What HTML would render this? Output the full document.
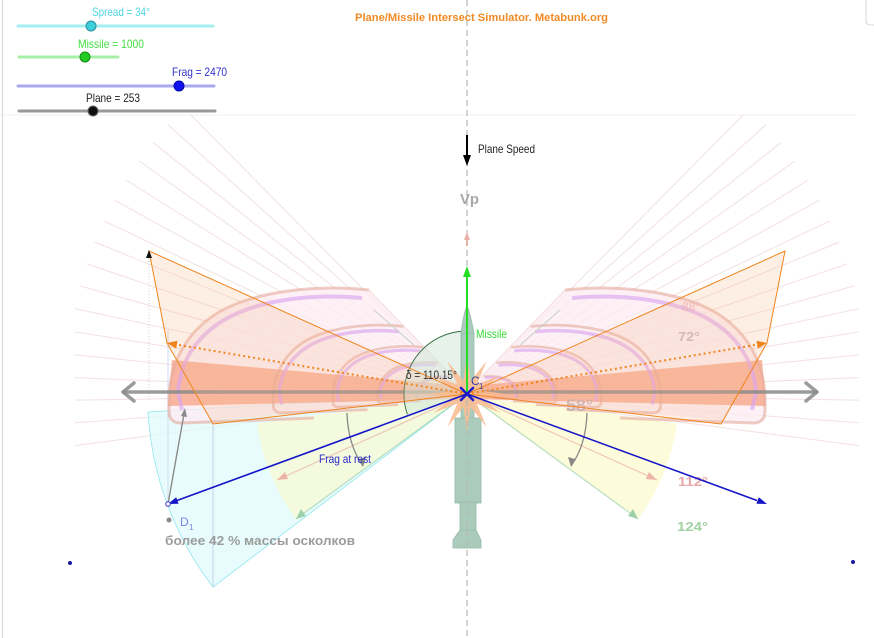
<!DOCTYPE html>
<html><head><meta charset="utf-8">
<style>
html,body{margin:0;padding:0;background:#fff;}
svg{display:block;}
</style></head>
<body>
<svg width="874" height="638" viewBox="0 0 874 638" xmlns="http://www.w3.org/2000/svg" font-family="'Liberation Sans', Arial, sans-serif">
<defs>
  <clipPath id="rc"><rect x="75" y="115" width="784" height="490"/></clipPath>
  <path id="ow" d="M565,290 C620,284 680,292 715,312 C748,332 763,362 765,395 L765,411 Q765,423 753,423 L620,418"/>
  <path id="pw" d="M572,298 C625,293 678,301 710,320 C740,338 754,364 756,392 L752,410"/>
</defs>

<!-- frame -->
<rect x="0" y="0" width="874" height="638" fill="#fff"/>
<line x1="2.5" y1="0" x2="2.5" y2="638" stroke="#d4d4d4" stroke-width="1"/>
<path d="M866,0 L866,20 Q866,25 871,25 L874,25" fill="none" stroke="#d8d8d8" stroke-width="1"/>
<line x1="0" y1="115" x2="856" y2="115" stroke="#f0f0f0" stroke-width="1"/>

<!-- rays -->
<g clip-path="url(#rc)" stroke="#e2bcb8" stroke-opacity="0.45" stroke-width="1">
  <g id="rays">
    <line x1="467" y1="394" x2="749.8" y2="108.3"/>
    <line x1="467" y1="394" x2="765.7" y2="125.0"/>
    <line x1="467" y1="394" x2="780.7" y2="142.7"/>
    <line x1="467" y1="394" x2="794.7" y2="161.1"/>
    <line x1="467" y1="394" x2="807.5" y2="180.4"/>
    <line x1="467" y1="394" x2="819.3" y2="200.3"/>
    <line x1="467" y1="394" x2="829.8" y2="220.9"/>
    <line x1="467" y1="394" x2="839.2" y2="242.1"/>
    <line x1="467" y1="394" x2="847.3" y2="263.8"/>
    <line x1="467" y1="394" x2="854.2" y2="285.9"/>
    <line x1="467" y1="394" x2="859.8" y2="308.4"/>
    <line x1="467" y1="394" x2="864.1" y2="331.1"/>
    <line x1="467" y1="394" x2="867.0" y2="354.1"/>
    <line x1="467" y1="394" x2="868.6" y2="377.2"/>
    <line x1="467" y1="394" x2="869.0" y2="400.3"/>
    <line x1="467" y1="394" x2="867.9" y2="423.4"/>
    <line x1="467" y1="394" x2="865.5" y2="446.5"/>
  </g>
  <use href="#rays" transform="translate(934,0) scale(-1,1)"/>
</g>

<!-- cyan spread sector (left) -->
<path d="M467,394 L148,412 A319,319 0 0 0 213,587 Z" fill="#e2fbfc" fill-opacity="0.75" stroke="#9ae8ee" stroke-width="0.9"/>
<line x1="213" y1="425" x2="213" y2="587" stroke="#c0d2e8" stroke-width="1"/>
<line x1="168" y1="330" x2="168" y2="503" stroke="#d0daf0" stroke-width="1"/>
<line x1="149" y1="252" x2="149" y2="400" stroke="#cccccc" stroke-width="1" stroke-dasharray="1 2"/>

<!-- yellow sectors -->
<path d="M467,394 L677,423.5 A212,212 0 0 1 638.5,518.6 Z" fill="#fdfcd6" fill-opacity="0.9"/>
<path d="M467,394 L257,423.5 A212,212 0 0 0 295.5,518.6 Z" fill="#f4f9da" fill-opacity="0.9"/>
<line x1="467" y1="394" x2="638" y2="519" stroke="#9bd0aa" stroke-opacity="0.7" stroke-width="1.2"/>
<line x1="467" y1="394" x2="296" y2="519" stroke="#9bd0aa" stroke-opacity="0.7" stroke-width="1.2"/>
<polygon points="638,519 628,516 633,509" fill="#9bd0aa"/>
<polygon points="296,519 306,516 301,509" fill="#9bd0aa"/>
<line x1="467" y1="394" x2="657" y2="480" stroke="#ecb4a6" stroke-opacity="0.75" stroke-width="1.2"/>
<line x1="467" y1="394" x2="277" y2="480" stroke="#ecb4a6" stroke-opacity="0.75" stroke-width="1.2"/>
<polygon points="657,480 646,479 649,472" fill="#ecb4a6"/>
<polygon points="277,480 288,479 285,472" fill="#ecb4a6"/>

<!-- wings -->
<g id="rw">
  <path d="M470,388 L565,290 C620,284 680,292 715,312 C748,332 763,362 765,395 L765,411 Q765,423 753,423 L470,398 Z" fill="#fcecf3" fill-opacity="0.75"/>
  <polygon points="470,386 762,360 766,406 470,399" fill="#f6a283" fill-opacity="0.75"/>
  <line x1="480" y1="378" x2="565" y2="290" stroke="#eccaca" stroke-width="1" stroke-opacity="0.6"/>
  <use href="#ow" fill="none" stroke="#e4aa9c" stroke-opacity="0.6" stroke-width="3"/>
  <use href="#ow" fill="none" stroke="#e4aa9c" stroke-opacity="0.6" stroke-width="4.2" transform="translate(467,394) scale(0.65) translate(-467,-394)"/>
  <use href="#ow" fill="none" stroke="#e4aa9c" stroke-opacity="0.6" stroke-width="5.6" transform="translate(467,394) scale(0.45) translate(-467,-394)"/>
  <use href="#ow" fill="none" stroke="#e4aa9c" stroke-opacity="0.6" stroke-width="8" transform="translate(467,394) scale(0.3) translate(-467,-394)"/>
  <use href="#ow" fill="none" stroke="#e4aa9c" stroke-opacity="0.6" stroke-width="12" transform="translate(467,394) scale(0.17) translate(-467,-394)"/>
  <use href="#pw" fill="none" stroke="#dca6f0" stroke-opacity="0.65" stroke-width="4"/>
  <use href="#pw" fill="none" stroke="#dca6f0" stroke-opacity="0.65" stroke-width="5.4" transform="translate(467,394) scale(0.65) translate(-467,-394)"/>
  <use href="#pw" fill="none" stroke="#dca6f0" stroke-opacity="0.65" stroke-width="7" transform="translate(467,394) scale(0.45) translate(-467,-394)"/>
  <use href="#pw" fill="none" stroke="#dca6f0" stroke-opacity="0.65" stroke-width="10" transform="translate(467,394) scale(0.3) translate(-467,-394)"/>
  <use href="#pw" fill="none" stroke="#dca6f0" stroke-opacity="0.65" stroke-width="15" transform="translate(467,394) scale(0.17) translate(-467,-394)"/>
  <path d="M560,310 L520,345" stroke="#c4d2ca" stroke-width="1"/>
  <path d="M587,413 Q586,445 571,466" fill="none" stroke="#888" stroke-width="1.3"/>
  <polygon points="571,467 568,457 575,459" fill="#888"/>
</g>
<use href="#rw" transform="translate(934,0) scale(-1,1)"/>

<!-- background labels -->
<text x="566" y="411" font-size="17" font-weight="bold" fill="#b8aab0" fill-opacity="0.75" textLength="27" lengthAdjust="spacingAndGlyphs">58°</text>
<text x="678" y="341" font-size="13" font-weight="bold" fill="#c8bcc0" textLength="22" lengthAdjust="spacingAndGlyphs">72°</text>
<text x="682" y="311" font-size="13" font-weight="bold" fill="#e8b0c0" fill-opacity="0.6" textLength="18" lengthAdjust="spacingAndGlyphs">88°</text>
<text x="678" y="486" font-size="13" font-weight="bold" fill="#e8a8a8" textLength="30" lengthAdjust="spacingAndGlyphs">112°</text>
<text x="677" y="531" font-size="13" font-weight="bold" fill="#a2d2a2" textLength="31" lengthAdjust="spacingAndGlyphs">124°</text>
<text x="165" y="545" font-size="13" font-weight="bold" fill="#9c9c9c" textLength="190" lengthAdjust="spacingAndGlyphs">более 42 % массы осколков</text>

<!-- gray horizontal arrows -->
<g stroke="#8a8a8a" stroke-opacity="0.85" stroke-width="3.5" fill="none" stroke-linecap="round" stroke-linejoin="round">
  <line x1="467" y1="392" x2="124" y2="392"/>
  <polyline points="134,383 123,392 134,401"/>
  <line x1="467" y1="392" x2="816" y2="392"/>
  <polyline points="806,383 817,392 806,401"/>
</g>

<!-- delta angle sector -->
<path d="M467,394 L467,331 A63,63 0 0 0 407.4,414.5 Z" fill="#d2e8d8" fill-opacity="0.55"/>
<path d="M467,331 A63,63 0 0 0 407.4,414.5" fill="none" stroke="#2f6a3c" stroke-width="0.9"/>

<!-- missile -->
<g fill="#abccbd" stroke="#96b9a8" stroke-width="0.8">
  <path d="M461,334 Q463,316 467,305 Q471,316 474,334 Z"/>
  <rect x="461" y="333" width="13" height="88"/>
  <rect x="455" y="418" width="26" height="85"/>
  <rect x="460" y="502" width="16" height="32"/>
  <polygon points="460,530 453,540 453,548 481,548 481,540 476,530"/>
</g>

<!-- starburst -->
<g transform="translate(467,394) scale(1.15,1.12) translate(-467,-394)">
<polygon points="501,394 478.6,397.1 496.4,411 475.5,402.5 484,423.4 470.1,405.6 467,428 463.9,405.6 450,423.4 458.5,402.5 437.6,411 455.4,397.1 433,394 455.4,390.9 437.6,377 458.5,385.5 450,364.6 463.9,382.4 467,360 470.1,382.4 484,364.6 475.5,385.5 496.4,377 478.6,390.9" fill="#f8bc94" fill-opacity="0.9"/>
</g>

<!-- dashed vertical axis -->
<line x1="467" y1="0" x2="467" y2="638" stroke="#b8b8b8" stroke-width="1.2" stroke-dasharray="6 4"/>

<!-- orange polygons -->
<polygon points="467,394 149,251 167,343 213,424" fill="#f9b488" fill-opacity="0.22" stroke="#f0841c" stroke-width="1"/>
<polygon points="467,394 785,251 767,343 721,424" fill="#f9b488" fill-opacity="0.22" stroke="#f0841c" stroke-width="1"/>
<line x1="467" y1="394" x2="176" y2="344.5" stroke="#f0841c" stroke-width="2" stroke-dasharray="2 3"/>
<line x1="467" y1="394" x2="758" y2="344.5" stroke="#f0841c" stroke-width="2" stroke-dasharray="2 3"/>
<polygon points="167,343 177.5,340.7 176.2,348.6" fill="#f0841c"/>
<polygon points="767,343 756.5,340.7 757.8,348.6" fill="#f0841c"/>
<polygon points="149,250 146,258 152,258" fill="#111"/>

<!-- top arrows -->
<line x1="467" y1="135" x2="467" y2="157" stroke="#000" stroke-width="2"/>
<polygon points="463,155 471,155 467,166" fill="#000"/>
<text x="478" y="153" font-size="12" fill="#222" textLength="57" lengthAdjust="spacingAndGlyphs">Plane Speed</text>
<text x="460" y="204" font-size="15" font-weight="bold" fill="#a8a8a8" textLength="19" lengthAdjust="spacingAndGlyphs">Vp</text>
<line x1="467" y1="236" x2="467" y2="246" stroke="#eab0a8" stroke-width="2"/>
<polygon points="464,240 470,240 467,232" fill="#eab0a8"/>
<line x1="467" y1="394" x2="467" y2="276" stroke="#22dd22" stroke-width="2"/>
<polygon points="463,277 471,277 467,266" fill="#22dd22"/>
<text x="476" y="338" font-size="12" fill="#38d838" textLength="31" lengthAdjust="spacingAndGlyphs">Missile</text>

<!-- blue frag lines -->
<line x1="467" y1="394" x2="177" y2="500.5" stroke="#1515c8" stroke-width="1.6"/>
<line x1="467" y1="394" x2="757" y2="500.5" stroke="#1515c8" stroke-width="1.6"/>
<polygon points="168,504 176.2,497.2 178.6,503.8" fill="#1515c8"/>
<polygon points="767,504 758.8,497.2 756.4,503.8" fill="#1515c8"/>
<text x="319" y="463" font-size="12" fill="#2a2acc" textLength="52" lengthAdjust="spacingAndGlyphs">Frag at rest</text>

<!-- D1 -->
<line x1="168" y1="504" x2="184" y2="414" stroke="#8a8a8a" stroke-width="1.4"/>
<polygon points="185,408 181,416 187,417" fill="#8a8a8a"/>
<circle cx="168" cy="504" r="2.3" fill="#fff" stroke="#3a3acc" stroke-width="1"/>
<circle cx="169" cy="520" r="2.5" fill="#8a8a8a"/>
<text x="180" y="526" font-size="12" fill="#8080e8">D</text>
<text x="189" y="530" font-size="8" fill="#8080e8">1</text>

<!-- center marker -->
<g stroke="#1a1acc" stroke-width="2.5" stroke-linecap="round">
  <line x1="461" y1="388" x2="473" y2="400"/>
  <line x1="461" y1="400" x2="473" y2="388"/>
</g>
<text x="471" y="385" font-size="12" fill="#334499">C</text>
<text x="479" y="389" font-size="8" fill="#334499">1</text>
<text x="406" y="379" font-size="12" fill="#333" textLength="51" lengthAdjust="spacingAndGlyphs">δ = 110.15°</text>

<!-- blue dots -->
<circle cx="70" cy="563" r="2" fill="#1a1aa0"/>
<circle cx="853" cy="562" r="2" fill="#1a1aa0"/>

<!-- title -->
<text x="355" y="21" font-size="11" font-weight="bold" fill="#f08a24" textLength="253" lengthAdjust="spacingAndGlyphs">Plane/Missile Intersect Simulator. Metabunk.org</text>

<!-- sliders -->
<text x="92" y="16" font-size="12" fill="#4fd6e0" textLength="58" lengthAdjust="spacingAndGlyphs">Spread = 34°</text>
<line x1="18" y1="26" x2="213" y2="26" stroke="#a6eff0" stroke-width="3" stroke-linecap="round"/>
<circle cx="91" cy="26" r="5" fill="#3ccfdc" stroke="#2a8f99" stroke-width="1"/>

<text x="78" y="48" font-size="12" fill="#44dd44" textLength="66" lengthAdjust="spacingAndGlyphs">Missile = 1000</text>
<line x1="19" y1="57" x2="118" y2="57" stroke="#a8efa8" stroke-width="3" stroke-linecap="round"/>
<circle cx="85" cy="57" r="5" fill="#22cc22" stroke="#118811" stroke-width="1"/>

<text x="172" y="76" font-size="12" fill="#3333cc" textLength="55" lengthAdjust="spacingAndGlyphs">Frag = 2470</text>
<line x1="18" y1="86" x2="214" y2="86" stroke="#aaaaf0" stroke-width="3" stroke-linecap="round"/>
<circle cx="179" cy="86" r="5" fill="#1111ee" stroke="#0000aa" stroke-width="1"/>

<text x="86" y="102" font-size="12" fill="#222" textLength="54" lengthAdjust="spacingAndGlyphs">Plane = 253</text>
<line x1="19" y1="111" x2="215" y2="111" stroke="#999" stroke-width="3" stroke-linecap="round"/>
<circle cx="93" cy="111" r="5" fill="#111" stroke="#666" stroke-width="1"/>
</svg>
</body></html>
